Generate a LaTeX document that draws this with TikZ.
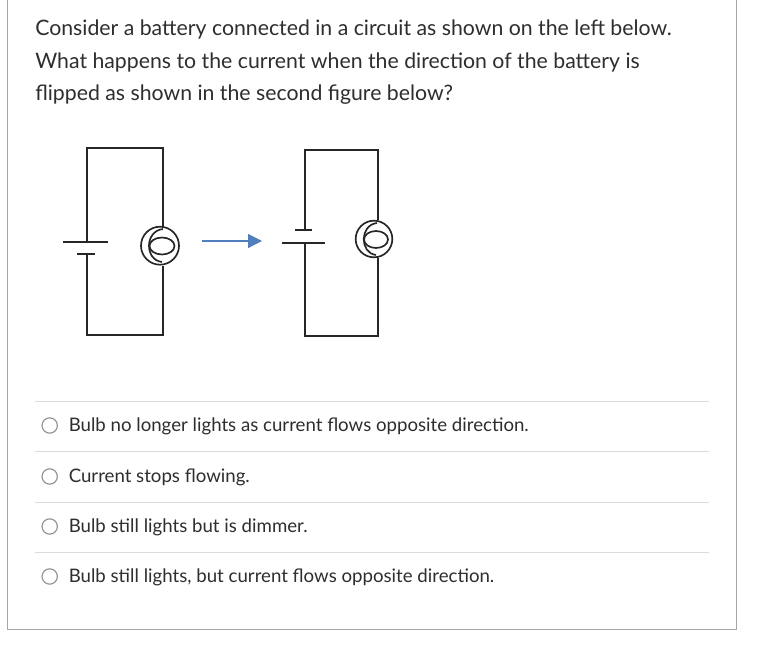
\documentclass[tikz,border=0pt]{standalone}
\usepackage{fontspec}
\usetikzlibrary{arrows.meta}
\setmainfont{Lato}
\definecolor{arrowblue}{HTML}{4F7FBF}
\begin{document}
\begin{tikzpicture}[x=0.75pt,y=-0.75pt,
  wire/.style={line width=1.35pt,black!85},
  thin wire/.style={line width=1.25pt,black!85},
  bulb/.style={circle,draw=black!85,line width=1.25pt,inner sep=0pt},
  question/.style={anchor=base west,inner sep=0pt,font=\fontsize{15.95pt}{24pt}\selectfont,text=black!82},
  answer/.style={anchor=base west,inner sep=0pt,font=\fontsize{13.98pt}{20pt}\selectfont,text=black!82},
  radio/.style={circle,draw=black!42,line width=0.9pt,minimum size=11.5pt,inner sep=0pt,fill=white},
  sep/.style={draw=black!14,line width=0.75pt},
  frame/.style={draw=black!35,line width=0.9pt},
  flip/.style={draw=arrowblue,line width=1pt,-{Triangle[length=10.5pt,width=10.5pt,fill=arrowblue]}}]
\useasboundingbox (0,0) rectangle (770,660);
\fill[white] (0,0) rectangle (770,660);
% frame
\coordinate (fa) at (7.5,0); \coordinate (fb) at (7.5,629.5);
\coordinate (fc) at (736.5,629.5); \coordinate (fd) at (736.5,0);
\draw[frame] (fa) -- (fb) -- (fc) -- (fd);
% question
\node[question] (q1) at (35,36) {Consider a battery connected in a circuit as shown on the left below.};
\node[question] (q2) at (35,68.5) {What happens to the current when the direction of the battery is};
\node[question] (q3) at (35,100) {flipped as shown in the second figure below?};
% left circuit
\coordinate (lTL) at (87,148); \coordinate (lTR) at (163,148);
\coordinate (lBL) at (87,335); \coordinate (lBR) at (163,335);
\coordinate (lP1) at (87,242); \coordinate (lP2) at (87,254);
\coordinate (lA) at (63,242); \coordinate (lB) at (108,242);
\coordinate (lC) at (77,254); \coordinate (lD) at (95,254);
\node[bulb,minimum size=28.5pt] (lbulb) at (160,245.7) {};
\draw[wire] (lP1) -- (lTL) -- (lTR) -- (lbulb.north -| lTR);
\draw[wire] (lP2) -- (lBL) -- (lBR) -- (lbulb.south -| lBR);
\draw[wire] (lA) -- (lB);
\draw[wire] (lC) -- (lD);
\draw[thin wire] (162,246) ellipse [x radius=12.5,y radius=8.5];
\draw[thin wire] (163,229) .. controls (144.5,231) and (144.5,260) .. (162,262);
% arrow
\coordinate (as) at (202,241); \coordinate (ae) at (262,241);
\draw[flip] (as) -- (ae);
% right circuit
\coordinate (rTL) at (305,150); \coordinate (rTR) at (378,150);
\coordinate (rBL) at (305,336); \coordinate (rBR) at (378,336);
\coordinate (rP1) at (305,230); \coordinate (rP2) at (305,243);
\coordinate (rA) at (295,230); \coordinate (rB) at (312,230);
\coordinate (rC) at (282,243); \coordinate (rD) at (325,243);
\node[bulb,minimum size=27.5pt] (rbulb) at (374,239) {};
\draw[wire] (rP1) -- (rTL) -- (rTR) -- (rbulb.north -| rTR);
\draw[wire] (rP2) -- (rBL) -- (rBR) -- (rbulb.south -| rBR);
\draw[wire] (rA) -- (rB);
\draw[wire] (rC) -- (rD);
\draw[thin wire] (376,239.5) ellipse [x radius=12,y radius=8.5];
\draw[thin wire] (377,223) .. controls (359.5,225) and (359.5,253) .. (376,255);
% separators
\foreach \n/\y in {a/401.5,b/451.5,c/502.5,d/552.5}{
  \coordinate (s\n1) at (35,\y); \coordinate (s\n2) at (709,\y);
  \draw[sep] (s\n1) -- (s\n2);
}
% answers
\node[radio] (r1) at (49.7,425.5) {};
\node[radio] (r2) at (49.7,476.5) {};
\node[radio] (r3) at (49.7,526.5) {};
\node[radio] (r4) at (49.7,576.5) {};
\node[answer] (t1) at (68.5,431) {Bulb no longer lights as current flows opposite direction.};
\node[answer] (t2) at (68.5,482) {Current stops flowing.};
\node[answer] (t3) at (68.5,532) {Bulb still lights but is dimmer.};
\node[answer] (t4) at (68.5,582) {Bulb still lights, but current flows opposite direction.};
\end{tikzpicture}
\end{document}
